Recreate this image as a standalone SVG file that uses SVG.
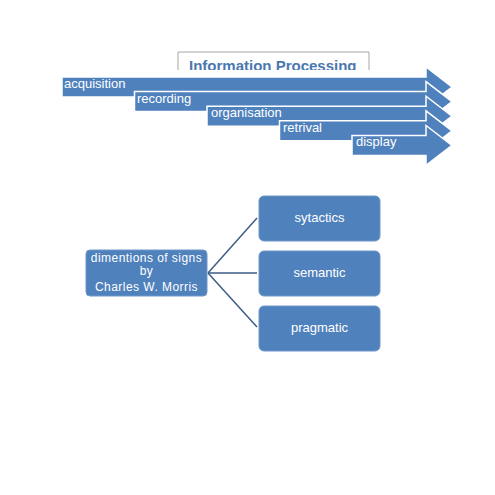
<svg xmlns="http://www.w3.org/2000/svg" width="495" height="495" viewBox="0 0 495 495">
<defs>
<style>
.arr{fill:#4f81bd;stroke:#ffffff;stroke-width:1.5;stroke-linejoin:miter}
.lbl{font-family:"Liberation Sans",Arial,sans-serif;font-size:13px;fill:#ffffff}
.sm{font-size:12px;letter-spacing:0.45px}
.box{fill:#4f81bd;stroke:#6f97c8;stroke-width:1}
.ctr{text-anchor:middle}
.con{stroke:#3d5c86;stroke-width:1.5;fill:none}
</style>
<clipPath id="titleClip"><rect x="178" y="52" width="191" height="18"/></clipPath>
</defs>
<rect width="495" height="495" fill="#ffffff"/>
<g id="title">
<path d="M178 70 V52 H369 V70" fill="none" stroke="#a6a6a6" stroke-width="1"/>
<text x="189" y="71" clip-path="url(#titleClip)" font-family="'Liberation Sans',Arial,sans-serif" font-size="15" font-weight="bold" fill="#4a78b0">Information Processing</text>
</g>
<g id="arrow-acquisition">
<path class="arr" d="M62 77 H426 V67 L452 87 L426 107 V97 H62 Z"/>
<text class="lbl" x="64" y="88">acquisition</text>
</g>
<g id="arrow-recording">
<path class="arr" d="M134.5 91.6 H426 V81.6 L452 101.6 L426 121.6 V111.6 H134.5 Z"/>
<text class="lbl" x="137" y="103">recording</text>
</g>
<g id="arrow-organisation">
<path class="arr" d="M207 106.2 H426 V96.2 L452 116.2 L426 136.2 V126.2 H207 Z"/>
<text class="lbl" x="211" y="117">organisation</text>
</g>
<g id="arrow-retrival">
<path class="arr" d="M279.5 120.8 H426 V110.8 L452 130.8 L426 150.8 V140.8 H279.5 Z"/>
<text class="lbl" x="283" y="132">retrival</text>
</g>
<g id="arrow-display">
<path class="arr" d="M352 135.4 H426 V125.4 L452 145.4 L426 165.4 V155.4 H352 Z"/>
<text class="lbl" x="356" y="146">display</text>
</g>
<g id="connectors">
<line class="con" x1="208" y1="273" x2="257" y2="218"/>
<line class="con" x1="208" y1="273" x2="257" y2="273"/>
<line class="con" x1="208" y1="273" x2="257" y2="327"/>
</g>
<g id="node-dimensions">
<rect class="box" x="86" y="250" width="121" height="46" rx="4"/>
<text class="lbl sm ctr" x="146.5" y="261.5">dimentions of signs</text>
<text class="lbl sm ctr" x="146.5" y="274.5">by</text>
<text class="lbl sm ctr" x="146.5" y="291">Charles W. Morris</text>
</g>
<g id="node-sytactics">
<rect class="box" x="259" y="196" width="121" height="45" rx="5"/>
<text class="lbl ctr" x="319.5" y="221.5">sytactics</text>
</g>
<g id="node-semantic">
<rect class="box" x="259" y="251" width="121" height="45" rx="5"/>
<text class="lbl ctr" x="319.5" y="276.5">semantic</text>
</g>
<g id="node-pragmatic">
<rect class="box" x="259" y="306" width="121" height="45" rx="5"/>
<text class="lbl ctr" x="319.5" y="331.5">pragmatic</text>
</g>
</svg>
